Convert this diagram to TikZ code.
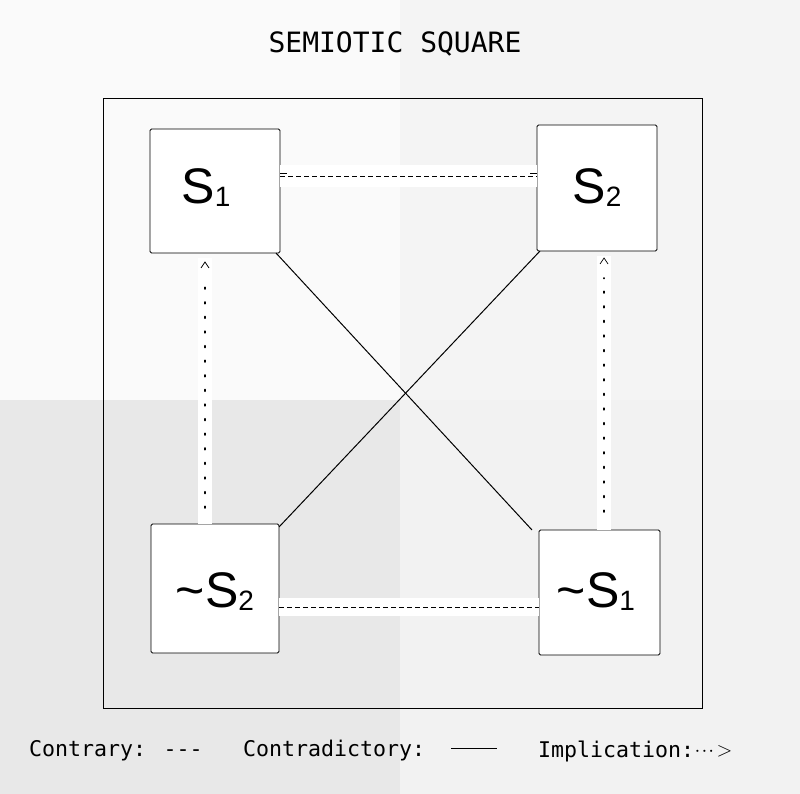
\documentclass[tikz,border=0pt]{standalone}
\usepackage{fontspec}
\setmainfont{Liberation Sans}
\newfontfamily\monof{DejaVu Sans Mono}
\begin{document}
\begin{tikzpicture}[x=1pt,y=-1pt,
  bx/.style={draw,fill=white,line width=0.8pt,rounded corners=1.5pt},
  lbl/.style={font=\fontsize{50}{54}\selectfont},
  band/.style={white,line width=9pt},
  dl/.style={dashed,line width=0.9pt,dash pattern=on 5pt off 3pt},
  dt/.style={line width=1.8pt,dash pattern=on 1.6pt off 13pt,line cap=round},
  lg/.style={font=\monof\fontsize{21.6}{23}\selectfont,anchor=west,inner sep=0}]
\useasboundingbox (0,0) rectangle (800,794);
\fill[gray!14] (0,0) rectangle (800,794);
\fill[gray!4] (0,0) rectangle (400,400);
\fill[gray!9] (400,0) rectangle (800,400);
\fill[gray!18] (0,400) rectangle (400,794);
\fill[gray!10] (400,400) rectangle (800,794);
\node[font=\monof\fontsize{28}{30}\selectfont] (title) at (395,44) {SEMIOTIC SQUARE};
\draw[line width=1pt] (103,99) rectangle (702,708);
\node[bx,minimum width=130,minimum height=124] (s1) at (215,191) {};
\node[bx,minimum width=120,minimum height=126] (s2) at (597,188) {};
\node[bx,minimum width=128,minimum height=129] (ns2) at (215,588.5) {};
\node[bx,minimum width=121,minimum height=125] (ns1) at (599.5,592.5) {};
\node[lbl] at (206,188) {S\raisebox{-3pt}{\fontsize{28}{30}\selectfont 1}};
\node[lbl] at (s2) {S\raisebox{-3pt}{\fontsize{28}{30}\selectfont 2}};
\node[lbl] at (215,592) {\textasciitilde S\raisebox{-3pt}{\fontsize{28}{30}\selectfont 2}};
\node[lbl] at (596,592) {\textasciitilde S\raisebox{-3pt}{\fontsize{28}{30}\selectfont 1}};
\coordinate (a1) at (280,176); \coordinate (a2) at (537,176);
\draw[band,line width=22pt] (a1) -- (a2);
\draw[dl] (a1) -- (a2);
\draw[line width=0.6pt] (280,173)--(287,173) (530,173)--(537,173);
\coordinate (b1) at (279,607); \coordinate (b2) at (539,607);
\draw[band,line width=18pt] (b1) -- (b2);
\draw[dl] (b1) -- (b2);
\coordinate (l1) at (205,524); \coordinate (l2) at (205,258);
\draw[band,line width=14pt] (l1) -- (l2);
\draw[dt] (205,508) -- (205,280);
\draw[line width=0.7pt] (201,268)--(205,262)--(209,268);
\coordinate (r1) at (604,530); \coordinate (r2) at (604,256);
\draw[band,line width=14pt] (r1) -- (r2);
\draw[dt] (604,512) -- (604,278);
\draw[line width=0.7pt] (600,264)--(604,258)--(608,264);
\draw[line width=1pt] (276,253) -- (532,530);
\draw[line width=1pt] (540,251) -- (279,527);
\node[lg] (leg1) at (29,751) {Contrary: ---};
\node[lg] (leg2) at (243,751) {Contradictory:};
\draw[line width=0.9pt] (451,748) -- (497,748);
\node[lg] (leg3) at (538,751) {Implication:};
\node[lg] (leg4) at (leg3.east) {$\cdot\!\cdot\!\cdot\!>$};
\end{tikzpicture}
\end{document}
